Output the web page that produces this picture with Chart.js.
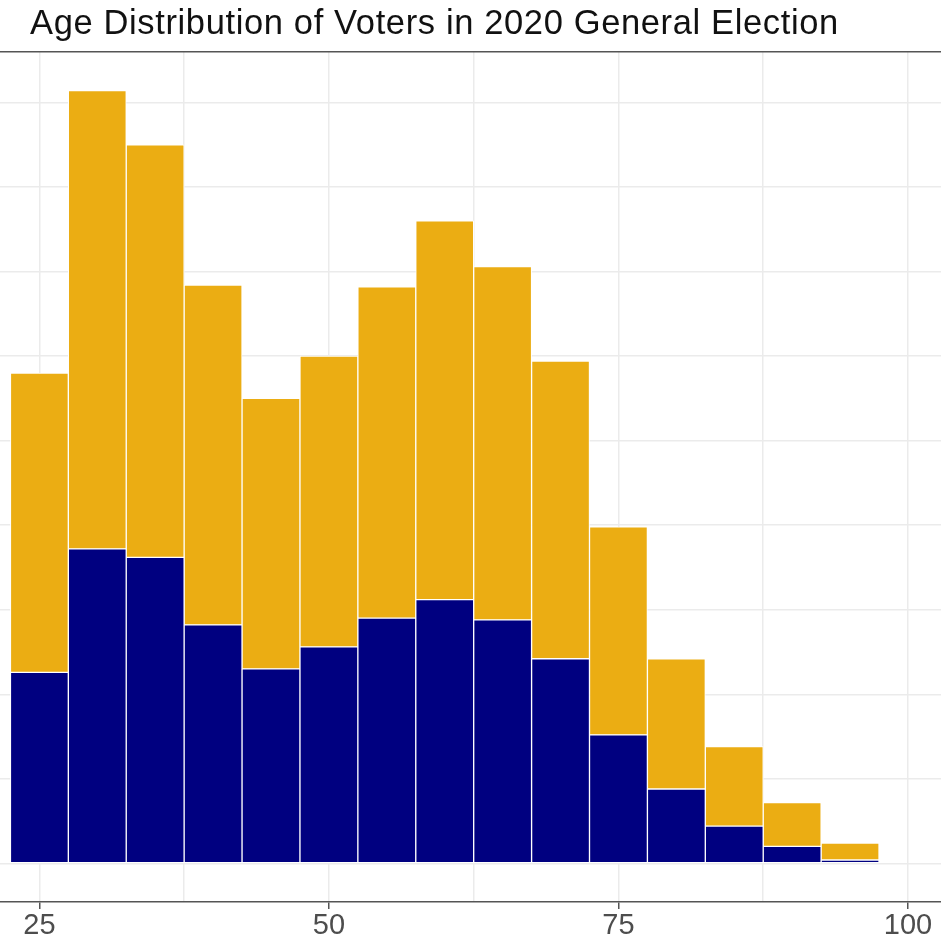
<!DOCTYPE html>
<html>
<head>
<meta charset="utf-8">
<script src="https://cdn.jsdelivr.net/npm/chart.js@4.4.1/dist/chart.umd.min.js"></script>
<style>
  html, body { margin: 0; padding: 0; background: #fff; }
  #wrap { position: relative; width: 941px; height: 941px; overflow: hidden; }
  #title {
    position: absolute; left: 30px; top: 5px; margin: 0;
    font-family: "Liberation Sans", Arial, sans-serif;
    font-size: 34.5px; letter-spacing: 0.63px; line-height: 1; font-weight: normal; color: #111;
    white-space: nowrap;
  }
  #chart { position: absolute; left: 0; top: 0; }
</style>
</head>
<body>
<div id="wrap">
  <canvas id="chart" width="941" height="941"></canvas>
  <h1 id="title">Age Distribution of Voters in 2020 General Election</h1>
</div>
<script>
// age bins (centre of each 5-year bin)
const ageBins = [25, 30, 35, 40, 45, 50, 55, 60, 65, 70, 75, 80, 85, 90, 95];
// bottom (navy) and top (gold) parts of each stacked bar
const navyCounts = [113, 186, 181, 141, 115, 128, 145, 156, 144, 121, 76, 44, 22, 10, 2];
const goldCounts = [177, 271, 244, 201, 160, 172, 196, 224, 209, 176, 123, 77, 47, 26, 10];
// x tick positions (major get a label, minor only a grid line)
const xMajor = [25, 50, 75, 100];
const xMinor = [37.5, 62.5, 87.5];
// y grid lines
const yGrid = [0, 50, 100, 150, 200, 250, 300, 350, 400, 450];

const xMin = 21.6, xMax = 102.85;
const totals = navyCounts.map((v, i) => v + goldCounts[i]);
const yTop = Math.max(...totals);

const ctx = document.getElementById("chart");
const gridColor = '#ebebeb';
const axisColor = '#555555';

new Chart(ctx, {
    type: 'bar',
    data: {
        datasets: [{
            data: ageBins.map((a, i) => ({x: a, y: navyCounts[i]})),
            backgroundColor: '#000080',
            borderColor: '#ffffff',
            borderWidth: 1,
            borderSkipped: false,
            categoryPercentage: 1,
            barPercentage: 1
        }, {
            data: ageBins.map((a, i) => ({x: a, y: goldCounts[i]})),
            backgroundColor: '#ebad13',
            borderColor: '#ffffff',
            borderWidth: 1,
            borderSkipped: false,
            categoryPercentage: 1,
            barPercentage: 1
        }]
    },
    options: {
        responsive: false,
        animation: false,
        layout: { padding: { top: 52, left: 0, right: 0, bottom: 0 } },
        scales: {
            x: {
                type: 'linear',
                stacked: true,
                offset: false,
                min: xMin,
                max: xMax,
                afterBuildTicks: (scale) => {
                    scale.ticks = [...xMajor, ...xMinor].sort((a, b) => a - b).map(v => ({value: v}));
                },
                afterFit: (scale) => { scale.height = 39; },
                ticks: {
                    autoSkip: false,
                    maxRotation: 0,
                    padding: 0,
                    color: '#4d4d4d',
                    font: { family: 'Liberation Sans', size: 29 },
                    callback: (v) => xMajor.includes(v) ? String(v) : ''
                },
                grid: {
                    offset: false,
                    color: gridColor,
                    lineWidth: 1.5,
                    tickLength: 7,
                    tickWidth: 1.5,
                    tickColor: (c) => (c.tick && xMajor.includes(c.tick.value)) ? axisColor : 'rgba(0,0,0,0)'
                },
                border: { display: true, color: axisColor, width: 1.5 }
            },
            xTop: {
                type: 'linear',
                position: 'top',
                offset: false,
                min: xMin,
                max: xMax,
                afterFit: (scale) => { scale.height = 0; },
                ticks: { display: false },
                grid: { display: false, drawTicks: false },
                border: { display: true, color: axisColor, width: 1.5 }
            },
            y: {
                stacked: true,
                min: -0.05 * yTop,
                max: 1.05 * yTop,
                afterBuildTicks: (scale) => {
                    scale.ticks = yGrid.map(v => ({value: v}));
                },
                afterFit: (scale) => { scale.width = 0; },
                ticks: { display: false },
                grid: { color: gridColor, lineWidth: 1.5, drawTicks: false },
                border: { display: false }
            }
        },
        plugins: {
            legend: { display: false },
            tooltip: { enabled: false },
            title: { display: false }
        }
    }
});
</script>
</body>
</html>
